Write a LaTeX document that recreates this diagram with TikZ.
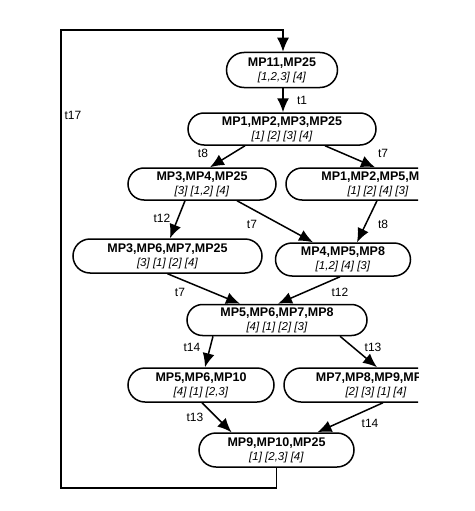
\documentclass[tikz,border=0pt]{standalone}
\usepackage{fontspec}
\setmainfont{Liberation Sans}
\usetikzlibrary{shapes.misc,arrows.meta}
\tikzset{
  state/.style={rounded rectangle, draw, line width=1.5pt, minimum height=33pt, inner sep=1pt, align=center,
    font=\fontsize{12.5}{15}\selectfont},
  arr/.style={line width=1.5pt, -{Latex[length=14pt,width=12pt]}},
  lbl/.style={font=\fontsize{12}{14}\selectfont, inner sep=0pt},
}
\newcommand{\st}[2]{\textbf{#1}\\[-1pt]{\fontsize{11.5}{13}\selectfont\textit{#2}}}
\begin{document}
\begin{tikzpicture}[x=1pt,y=-1pt]
\useasboundingbox (0,0) rectangle (474,511);
\begin{scope}
\clip (0,0) rectangle (418,511);
\node[state, minimum width=113pt, minimum height=35pt] (n1) at (282,70) {\st{MP11,MP25}{[1,2,3] [4]}};
\node[state, minimum width=190pt, minimum height=32pt] (n2) at (282,129) {\st{MP1,MP2,MP3,MP25}{[1] [2] [3] [4]}};
\node[state, minimum width=150pt, minimum height=32pt] (n3) at (202,184) {\st{MP3,MP4,MP25}{[3] [1,2] [4]}};
\node[state, minimum width=186pt, minimum height=32pt] (n4) at (378,184) {\st{MP1,MP2,MP5,MP8}{[1] [2] [4] [3]}};
\node[state, minimum width=191pt, minimum height=34pt] (n5) at (167.5,256) {\st{MP3,MP6,MP7,MP25}{[3] [1] [2] [4]}};
\node[state, minimum width=137pt, minimum height=33pt] (n6) at (343,259.5) {\st{MP4,MP5,MP8}{[1,2] [4] [3]}};
\node[state, minimum width=182pt, minimum height=31pt] (n7) at (277,320) {\st{MP5,MP6,MP7,MP8}{[4] [1] [2] [3]}};
\node[state, minimum width=148pt, minimum height=34pt] (n8) at (201,385) {\st{MP5,MP6,MP10}{[4] [1] [2,3]}};
\node[state, minimum width=186pt, minimum height=34pt] (n9) at (376,385) {\st{MP7,MP8,MP9,MP10}{[2] [3] [1] [4]}};
\node[state, minimum width=157pt, minimum height=34pt] (n10) at (276.5,450) {\st{MP9,MP10,MP25}{[1] [2,3] [4]}};

\draw[arr] ([xshift=1pt]n1.south) -- ([xshift=1pt]n2.north);
\draw[arr] ([xshift=-37pt]n2.south) -- ([xshift=8pt]n3.north);
\draw[arr] ([xshift=43pt]n2.south) -- ([xshift=-3pt]n4.north);
\draw[arr] ([xshift=-17pt]n3.south) -- ([xshift=2.5pt]n5.north);
\draw[arr] ([xshift=35pt]n3.south) -- ([xshift=-30pt]n6.north);
\draw[arr] ([xshift=-1pt]n4.south) -- ([xshift=14pt]n6.north);
\draw[arr] ([xshift=0pt]n5.south) -- ([xshift=-37pt]n7.north);
\draw[arr] ([xshift=-3pt]n6.south) -- ([xshift=1pt]n7.north);
\draw[arr] ([xshift=-64pt]n7.south) -- ([xshift=4pt]n8.north);
\draw[arr] ([xshift=63pt]n7.south) -- ([xshift=1pt]n9.north);
\draw[arr] ([xshift=1pt]n8.south) -- ([xshift=-45pt]n10.north);
\draw[arr] ([xshift=7pt]n9.south) -- ([xshift=41pt]n10.north);
\coordinate (c1) at (61,488);
\coordinate (c2) at (61,30);
\draw[arr] (n10.south) |- (c1) -- (c2) -| ([xshift=1pt]n1.north);

\node[lbl] (l1) at (302,100) {t1};
\node[lbl] (l2) at (203,153) {t8};
\node[lbl] (l3) at (383,153) {t7};
\node[lbl] (l4) at (162,218) {t12};
\node[lbl] (l5) at (252,224) {t7};
\node[lbl] (l6) at (383,224) {t8};
\node[lbl] (l7) at (180,292) {t7};
\node[lbl] (l8) at (340,292) {t12};
\node[lbl] (l9) at (192,347) {t14};
\node[lbl] (l10) at (373,347) {t13};
\node[lbl] (l11) at (195,417) {t13};
\node[lbl] (l12) at (370,423) {t14};
\node[lbl] (l13) at (73,115) {t17};
\end{scope}
\end{tikzpicture}
\end{document}
